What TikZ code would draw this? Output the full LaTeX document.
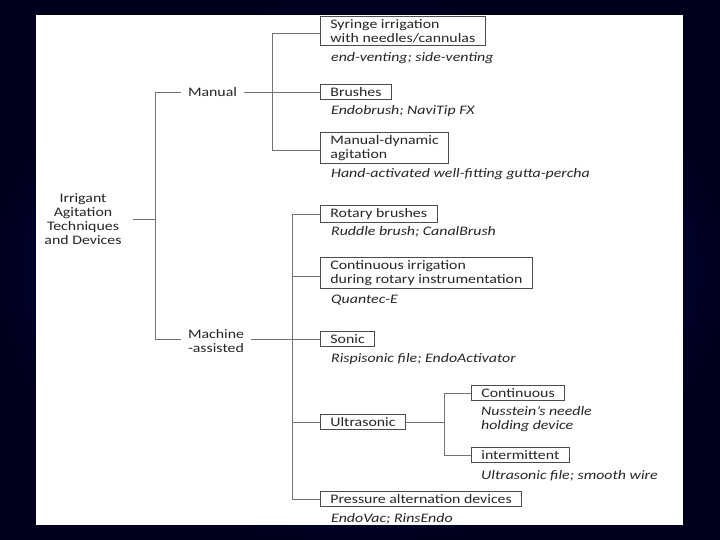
\documentclass[tikz,border=0pt]{standalone}
\usepackage{fontspec}
\setmainfont{Carlito}[FakeStretch=1.22]
\begin{document}
\begin{tikzpicture}[x=1pt,y=-1pt,
  lbl/.style={font=\fontsize{13}{14}\selectfont, inner sep=0pt, align=left, text=black!85},
  box/.style={lbl, draw=black!70, line width=0.8pt, inner xsep=10pt, inner ysep=3pt, anchor=west},
  sub/.style={lbl, font=\fontsize{13}{14}\selectfont\itshape, anchor=west},
  ln/.style={draw=black!55, line width=0.7pt}]
\useasboundingbox (0,0) rectangle (720,540);
\shade[inner color={rgb,255:red,10;green,20;blue,160}, outer color={rgb,255:red,0;green,0;blue,30}] (0,0) rectangle (720,540);
\fill[white] (36,15) rectangle (683,525);
% root
\node[lbl, align=center] (root) at (83,219) {Irrigant\\Agitation\\Techniques\\and Devices};
\coordinate (rj) at (155,219);
\coordinate (rt) at (155,92);
\coordinate (rb) at (155,339);
\draw[ln] (133,219) -- (rj);
\draw[ln] (rt) -- (rb);
\node[lbl, anchor=west, outer sep=7pt] (man) at (181,92) {Manual};
\node[lbl, anchor=west, outer sep=7pt] (mach) at (181,341) {Machine\\-assisted};
\draw[ln] (rt) -- (man.west);
\draw[ln] (rb) -- (mach.west|-rb);
% manual
\coordinate (mt) at (272,33);
\coordinate (mb) at (272,150);
\coordinate (mm) at (272,92);
\draw[ln] (man.east) -- (mm);
\draw[ln] (mt) -- (mb);
\node[box] (syr) at (320,31) {Syringe irrigation\\with needles/cannulas};
\node[sub] (syrs) at (331,58) {end-venting; side-venting};
\node[box] (bru) at (320,92) {Brushes};
\node[sub] (brus) at (331,111) {Endobrush; NaviTip FX};
\node[box] (mdy) at (320,148) {Manual-dynamic\\agitation};
\node[sub] (mdys) at (331,174) {Hand-activated well-fitting gutta-percha};
\draw[ln] (mt) -- (mt-|syr.west);
\draw[ln] (mm) -- (bru.west);
\draw[ln] (mb) -- (mb-|mdy.west);
% machine
\coordinate (ct) at (292,214);
\coordinate (cb) at (292,499);
\coordinate (c2) at (292,276);
\coordinate (c3) at (292,339);
\coordinate (c4) at (292,422);
\draw[ln] (mach.east|-rb) -- (c3);
\draw[ln] (ct) -- (cb);
\node[box] (rot) at (320,214) {Rotary brushes};
\node[sub] (rots) at (331,232) {Ruddle brush; CanalBrush};
\node[box] (cont) at (320,273) {Continuous irrigation\\during rotary instrumentation};
\node[sub] (conts) at (331,300) {Quantec-E};
\node[box] (son) at (320,339) {Sonic};
\node[sub] (sons) at (331,359) {Rispisonic file; EndoActivator};
\node[box] (ult) at (320,422) {Ultrasonic};
\node[box] (pre) at (320,499) {Pressure alternation devices};
\node[sub] (pres) at (331,519) {EndoVac; RinsEndo};
\draw[ln] (ct) -- (rot.west);
\draw[ln] (c2) -- (c2-|cont.west);
\draw[ln] (c3) -- (son.west);
\draw[ln] (c4) -- (ult.west);
\draw[ln] (cb) -- (pre.west);
% ultrasonic
\coordinate (ut) at (444,393);
\coordinate (ub) at (444,455);
\coordinate (um) at (444,422);
\draw[ln] (ult.east) -- (um);
\draw[ln] (ut) -- (ub);
\node[box] (uc) at (471,393) {Continuous};
\node[sub] (ucs) at (481,419) {Nusstein's needle\\holding device};
\node[box] (ui) at (471,455) {intermittent};
\node[sub] (uis) at (481,476) {Ultrasonic file; smooth wire};
\draw[ln] (ut) -- (uc.west);
\draw[ln] (ub) -- (ui.west);
\end{tikzpicture}
\end{document}
